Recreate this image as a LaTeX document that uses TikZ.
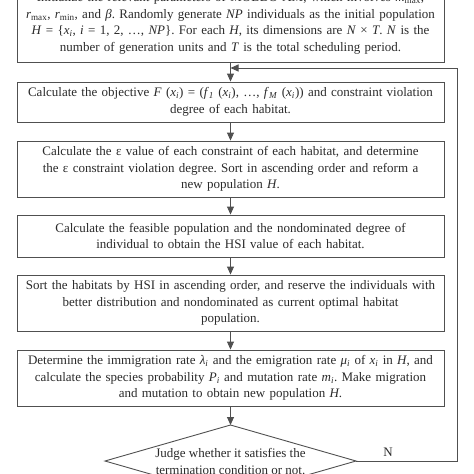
\documentclass[tikz,border=0pt]{standalone}
\usepackage{fontspec}
\setmainfont{Liberation Serif}
\usetikzlibrary{arrows.meta}
\definecolor{ln}{HTML}{505050}
\definecolor{tx}{HTML}{2A2A2A}
\newcommand{\iv}[1]{\textit{#1}}
\newcommand{\sbi}[1]{\textsubscript{\textit{#1}}}
\newcommand{\sbr}[1]{\textsubscript{#1}}
\frenchspacing
\tikzset{
  stepbox/.style={draw=ln, line width=0.9pt, minimum width=427pt, text width=425pt, align=center, inner sep=0pt, text=tx, font=\fontsize{13}{16.5}\selectfont},
  conn/.style={draw=ln, line width=0.9pt, -{Triangle[length=8pt,width=7pt]}},
  plain/.style={draw=ln, line width=0.9pt},
  lbl/.style={text=tx, font=\fontsize{13}{17}\selectfont, align=center, inner sep=0pt}
}
\begin{document}
\begin{tikzpicture}[x=1pt,y=-1pt]
\useasboundingbox (0,0) rectangle (474,474);
\node[stepbox, minimum height=77pt] (b1) at (230.5,23.5) {Initialize the relevant parameters of MOBBO-AM, which involves \iv{m}\sbr{max},\\
\iv{r}\sbr{max}, \iv{r}\sbr{min}, and \iv{β}. Randomly generate \iv{NP} individuals as the initial population\\
\iv{H} = \{\iv{x}\sbi{i}, \iv{i} = 1, 2, \dots, \iv{NP}\}. For each \iv{H}, its dimensions are \iv{N} × \iv{T}. \iv{N} is the\\
number of generation units and \iv{T} is the total scheduling period.};
\node[stepbox, minimum height=40pt] (b2) at (230.5,102) {Calculate the objective \iv{F} (\iv{x}\sbi{i}) = (\iv{f}\sbi{1} (\iv{x}\sbi{i}), \dots, \iv{f}\sbi{M} (\iv{x}\sbi{i})) and constraint violation\\
degree of each habitat.};
\node[stepbox, minimum height=56pt] (b3) at (230.5,169) {Calculate the ε value of each constraint of each habitat, and determine\\
the ε constraint violation degree. Sort in ascending order and reform a\\
new population \iv{H}.};
\node[stepbox, minimum height=42pt] (b4) at (230.5,236) {Calculate the feasible population and the nondominated degree of\\
individual to obtain the HSI value of each habitat.};
\node[stepbox, minimum height=56pt] (b5) at (230.5,303) {Sort the habitats by HSI in ascending order, and reserve the individuals with\\
better distribution and nondominated as current optimal habitat\\
population.};
\node[stepbox, minimum height=56pt] (b6) at (230.5,378) {Determine the immigration rate \iv{λ}\sbi{i} and the emigration rate \iv{μ}\sbi{i} of \iv{x}\sbi{i} in \iv{H}, and\\
calculate the species probability \iv{P}\sbi{i} and mutation rate \iv{m}\sbi{i}. Make migration\\
and mutation to obtain new population \iv{H}.};
\coordinate (jt) at (230.5,425);
\coordinate (jr) at (356,461);
\coordinate (jb) at (230.5,497);
\coordinate (jl) at (105,461);
\draw[plain] (jt) -- (jr) -- (jb) -- (jl) -- cycle;
\node[lbl] (judge) at (230.5,462) {Judge whether it satisfies the\\termination condition or not.};
\coordinate (fr) at (457,461);
\coordinate (ft) at (457,68);
\coordinate (fl) at (230.5,68);
\draw[conn] (b1.south) -- (b2.north);
\draw[conn] (b2.south) -- (b3.north);
\draw[conn] (b3.south) -- (b4.north);
\draw[conn] (b4.south) -- (b5.north);
\draw[conn] (b5.south) -- (b6.north);
\draw[conn] (b6.south) -- (jt);
\draw[conn] (jr) -- (fr) -- (ft) -- (fl);
\node[lbl] (nlab) at (388,452) {N};
\end{tikzpicture}
\end{document}
